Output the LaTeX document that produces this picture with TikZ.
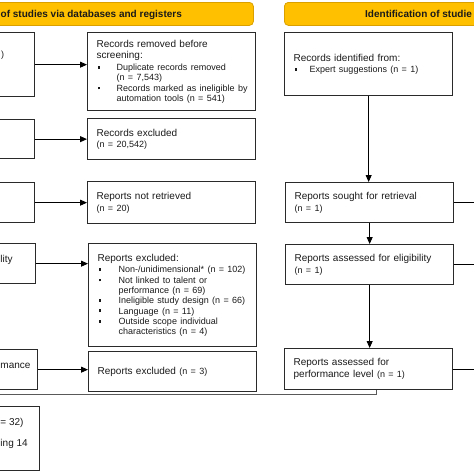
\documentclass[tikz,border=0pt]{standalone}
\usepackage{fontspec}
\setmainfont{Liberation Sans}
\usetikzlibrary{arrows.meta}
\definecolor{banner}{HTML}{FFC000}
\definecolor{bannerline}{HTML}{D9A000}
\definecolor{boxline}{HTML}{2A2A2A}
\definecolor{txt}{HTML}{1A1A1A}
\newcommand{\mainf}{\fontsize{10}{11.5}\selectfont}
\newcommand{\smallf}{\fontsize{9}{10.3}\selectfont}
\newcommand{\sqbul}{\rule[1.8pt]{2.8pt}{2.8pt}}
\newcommand{\bitem}[2][20pt]{\par\smallf\hangindent=#1\relax\hangafter=1\relax\noindent\makebox[#1][l]{\hspace{1pt}\sqbul}#2\par}
\begin{document}
\begin{tikzpicture}[x=1pt,y=-1pt,
  box/.style={draw=boxline, line width=1.3pt, rectangle, anchor=north west,
    inner xsep=9pt, inner ysep=2pt, align=left, font=\mainf, text=txt},
  mbox/.style={box, minimum width=168pt, text width=150pt},
  lbox/.style={draw=boxline, line width=1.3pt, rectangle, anchor=north west, inner sep=0pt},
  frag/.style={inner sep=0pt, font=\mainf, text=txt},
  arr/.style={-{Triangle[length=7pt,width=6pt]}, line width=0.9pt, draw=black},
  ln/.style={line width=0.9pt, draw=black},
  bannerbox/.style={fill=banner, draw=bannerline, line width=0.8pt, rounded corners=4pt,
    anchor=north west, inner sep=0pt, minimum height=23pt},
  btext/.style={inner sep=0pt, font=\bfseries\fontsize{10}{12}\selectfont, text=txt, anchor=base west}]
\useasboundingbox (0,0) rectangle (474,474);
\clip (0,0) rectangle (474,474);

% banners
\node[bannerbox, minimum width=325pt] (BL) at (-72,2) {};
\node[bannerbox, minimum width=260pt] (BR) at (284,2) {};
\node[btext] (BLt) at (0.5,17.6) {of studies via databases and registers};
\node[btext] (BRt) at (365,17.6) {Identification of studie};

% left column (cropped)
\node[lbox, minimum width=94pt, minimum height=64pt] (L1) at (-60,32) {};
\node[lbox, minimum width=94pt, minimum height=39pt] (L2) at (-60,119) {};
\node[lbox, minimum width=94pt, minimum height=40pt] (L3) at (-60,182) {};
\node[lbox, minimum width=95pt, minimum height=40pt] (L4) at (-60,243) {};
\node[lbox, minimum width=97pt, minimum height=40pt] (L5) at (-60,349) {};
\node[lbox, minimum width=99pt, minimum height=64pt] (L6) at (-60,406) {};
\node[frag, anchor=base west, font=\smallf] (L1t) at (1,57.5) {)};
\node[frag, anchor=base west] (L4t) at (0.3,262.5) {lity};
\node[frag, anchor=base west] (L5t) at (0.3,368) {mance};
\node[frag, anchor=base west] (L6a) at (0.3,425.5) {= 32)};
\node[frag, anchor=base west] (L6b) at (0.3,446) {ing 14};

% middle column
\node[mbox, minimum height=78pt] (M1) at (87,32) {Records removed before\\screening:\par\vspace{1.5pt}%
\bitem{\mbox{Duplicate records removed}\newline(n = 7,543)}%
\bitem{\mbox{Records marked as ineligible by}\newline automation tools (n = 541)}};
\node[mbox, minimum height=41pt] (M2) at (87,118) {Records excluded\\{\smallf(n = 20,542)}};
\node[mbox, minimum height=42pt] (M3) at (87,181) {Reports not retrieved\\{\smallf(n = 20)}};
\node[mbox, minimum height=103pt] (M4) at (88,243) {Reports excluded:\par\vspace{1.5pt}%
\bitem[21pt]{\mbox{Non-/unidimensional* (n = 102)}}%
\bitem[21pt]{\mbox{Not linked to talent or}\newline performance (n = 69)}%
\bitem[21pt]{\mbox{Ineligible study design (n = 66)}}%
\bitem[21pt]{Language (n = 11)}%
\bitem[21pt]{\mbox{Outside scope individual}\newline characteristics (n = 4)}};
\node[mbox, minimum height=40pt] (M5) at (88,351) {Reports excluded {\smallf(n = 3)}};

% right column
\node[mbox, minimum height=63pt] (R1) at (284,32) {Records identified from:\par\vspace{1pt}%
\bitem[16pt]{Expert suggestions (n = 1)}};
\node[mbox, minimum height=40pt] (R2) at (285,182) {Reports sought for retrieval\\{\smallf(n = 1)}};
\node[mbox, minimum height=40pt] (R3) at (285,244) {Reports assessed for eligibility\\{\smallf(n = 1)}};
\node[mbox, minimum height=41pt] (R4) at (284,348) {Reports assessed for\\performance level {\smallf(n = 1)}};

% connectors left -> middle
\draw[arr] (L1.east) -- (L1.east -| M1.west);
\draw[arr] (L2.east) -- (L2.east -| M2.west);
\draw[arr] (L3.east) -- (L3.east -| M3.west);
\draw[arr] (L4.east) -- (L4.east -| M4.west);
\draw[arr] (L5.east) -- (L5.east -| M5.west);

% right column vertical arrows
\draw[arr] (R1.south) -- (R1.south |- R2.north);
\draw[arr] (R2.south) -- (R2.south |- R3.north);
\draw[arr] (R3.south) -- (R3.south |- R4.north);

% right column lines leaving the picture
\coordinate (E) at (480,0);
\draw[ln] (R2.east) -- (R2.east -| E);
\draw[ln] (R3.east) -- (R3.east -| E);
\draw[ln] (R4.east) -- (R4.east -| E);

% merge line to included studies
\coordinate (S1) at (376,394);
\coordinate (S2) at (-5,394);
\draw[line width=1pt, draw=black!65] (R4.south -| S1) -- (S1) -- (S2);
\end{tikzpicture}
\end{document}
